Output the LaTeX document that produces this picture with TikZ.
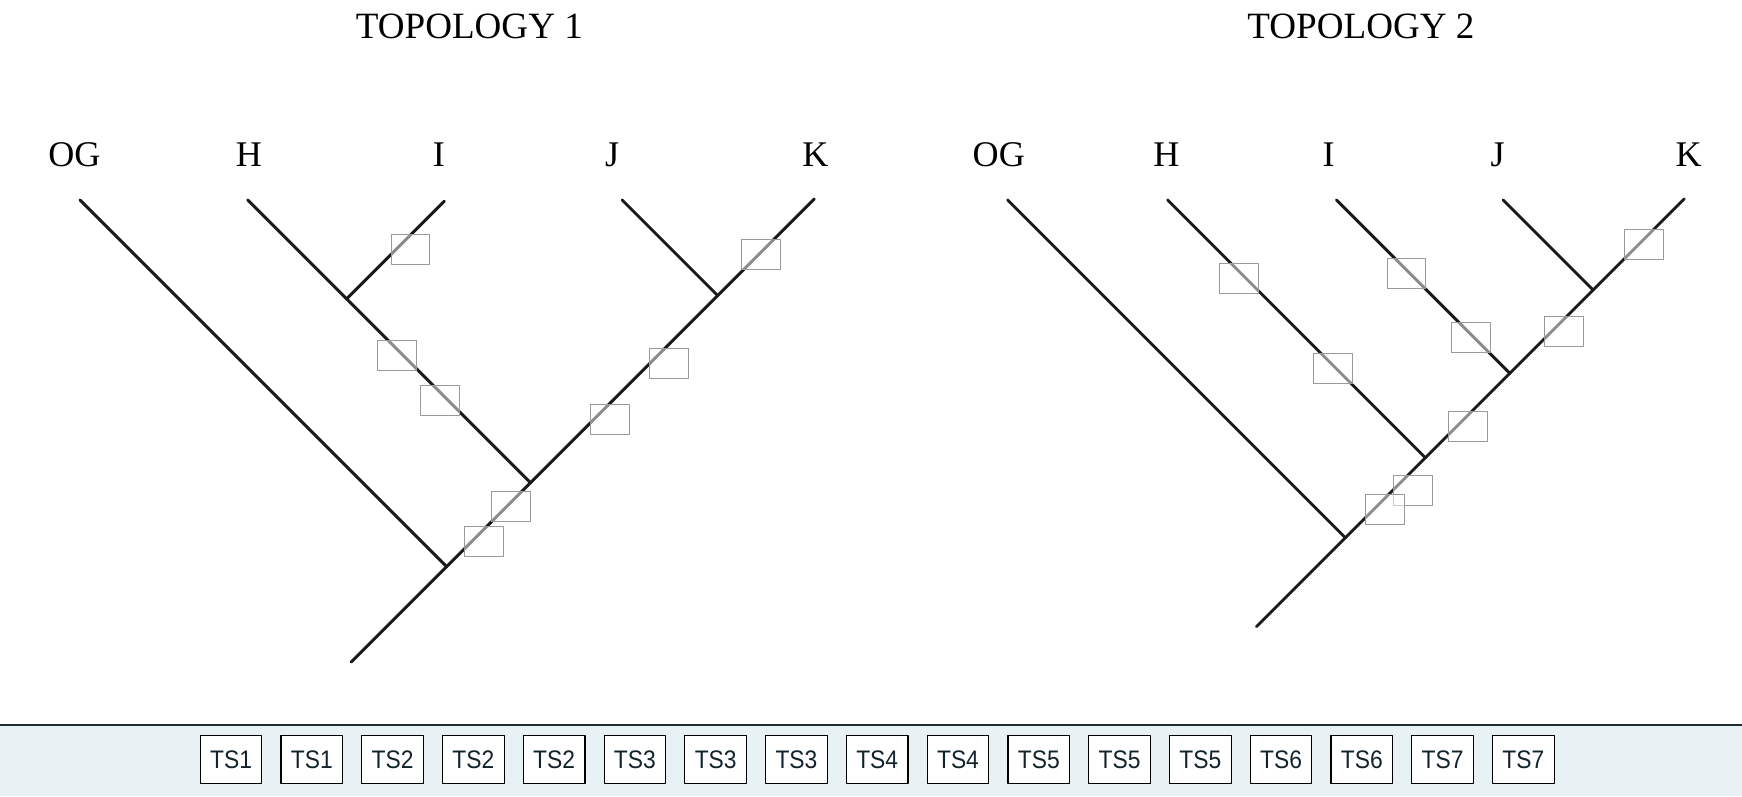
\documentclass[tikz,border=0pt]{standalone}
\usepackage{fontspec}
\setmainfont{Liberation Serif}
\setsansfont{Liberation Sans}
\newfontfamily\tsfont[FakeStretch=0.9]{Liberation Sans}
\usepackage{xcolor}
\definecolor{barfill}{HTML}{E8F1F4}
\definecolor{barline}{HTML}{1F2D33}
\definecolor{tstext}{HTML}{13232B}
\definecolor{slotgray}{HTML}{9A9A9A}
\definecolor{branchcol}{HTML}{1A1A1A}
\tikzset{
  branch/.style={line width=1.5pt,color=branchcol,line cap=round},
  slot/.style={draw=slotgray,line width=0.5pt,fill=white,fill opacity=0.5,minimum width=0.70cm,minimum height=0.54cm,inner sep=0pt},
  taxon/.style={anchor=base,font=\fontsize{18.5}{20}\selectfont},
  toptitle/.style={anchor=base,font=\fontsize{19}{21}\selectfont},
  tsbox/.style={draw=black,line width=0.6pt,fill=white,minimum width=1.11cm,minimum height=0.86cm,inner sep=0pt,text=tstext,font=\tsfont\fontsize{13}{15}\selectfont}
}
\begin{document}
\begin{tikzpicture}[line cap=round,line join=round,x=0.02cm,y=-0.02cm]
		\useasboundingbox (0,0) rectangle (1568,716.5);
		% topology 1
		\node[toptitle] (title1) at (422.5,34.5) {TOPOLOGY 1};
		\node[taxon] (la1og) at (67,150) {OG};
		\node[taxon] (la1h) at (224,150) {H};
		\node[taxon] (la1i) at (395,150) {I};
		\node[taxon] (la1j) at (551,150) {J};
		\node[taxon] (la1k) at (734,150) {K};
		\coordinate (t1og) at (72,180);
		\coordinate (t1h) at (223,180);
		\coordinate (t1i) at (400,181);
		\coordinate (t1j) at (560,180);
		\coordinate (t1k) at (733,179);
		\coordinate (t1hi) at (312,269);
		\coordinate (t1jk) at (646,266);
		\coordinate (t1hk) at (477.5,434.5);
		\coordinate (t1ogk) at (402,510);
		\coordinate (t1root) at (316,596);
		\draw [branch] (t1og)-- (t1ogk);
		\draw [branch] (t1h)-- (t1hi);
		\draw [branch] (t1hi)-- (t1hk);
		\draw [branch] (t1i)-- (t1hi);
		\draw [branch] (t1j)-- (t1jk);
		\draw [branch] (t1k)-- (t1jk);
		\draw [branch] (t1jk)-- (t1hk);
		\draw [branch] (t1hk)-- (t1ogk);
		\draw [branch] (t1ogk)-- (t1root);
		\node[slot] (s1a) at (369.5,224.5) {};
		\node[slot] (s1b) at (685,229.5) {};
		\node[slot] (s1c) at (357.5,320) {};
		\node[slot] (s1d) at (396,360.5) {};
		\node[slot] (s1e) at (602.5,327.5) {};
		\node[slot] (s1f) at (549,377.5) {};
		\node[slot] (s1g) at (460,456) {};
		\node[slot] (s1h) at (436,487.5) {};
		% topology 2
		\node[toptitle] (title2) at (1225,34.5) {TOPOLOGY 2};
		\node[taxon] (la2og) at (899,150) {OG};
		\node[taxon] (la2h) at (1050,150) {H};
		\node[taxon] (la2i) at (1196,150) {I};
		\node[taxon] (la2j) at (1348,150) {J};
		\node[taxon] (la2k) at (1520,150) {K};
		\coordinate (t2og) at (907,180);
		\coordinate (t2h) at (1051,180);
		\coordinate (t2i) at (1203,180);
		\coordinate (t2j) at (1353,180);
		\coordinate (t2k) at (1516,179);
		\coordinate (t2jk) at (1434,261);
		\coordinate (t2ik) at (1359,336);
		\coordinate (t2hk) at (1283,412);
		\coordinate (t2ogk) at (1211,484);
		\coordinate (t2root) at (1131,564);
		\draw [branch] (t2og)-- (t2ogk);
		\draw [branch] (t2h)-- (t2hk);
		\draw [branch] (t2i)-- (t2ik);
		\draw [branch] (t2j)-- (t2jk);
		\draw [branch] (t2k)-- (t2jk);
		\draw [branch] (t2jk)-- (t2ik);
		\draw [branch] (t2ik)-- (t2hk);
		\draw [branch] (t2hk)-- (t2ogk);
		\draw [branch] (t2ogk)-- (t2root);
		\node[slot] (s2a) at (1480,220.5) {};
		\node[slot] (s2b) at (1115.5,250.5) {};
		\node[slot] (s2c) at (1266,246) {};
		\node[slot] (s2d) at (1324,303.5) {};
		\node[slot] (s2e) at (1408,298.5) {};
		\node[slot] (s2f) at (1200,331.5) {};
		\node[slot] (s2g) at (1321.5,383.5) {};
		\node[slot] (s2h) at (1272,441.5) {};
		\node[slot] (s2i) at (1247,458.5) {};
		% answer bar
		\fill [barfill] (0,652.5) rectangle (1568,716.5);
		\draw [barline,line width=0.6pt,line cap=butt] (0,652.5)-- (1568,652.5);
		\foreach \lab [count=\n from 0] in {TS1,TS1,TS2,TS2,TS2,TS3,TS3,TS3,TS4,TS4,TS5,TS5,TS5,TS6,TS6,TS7,TS7}
			\node[tsbox] (ts\n) at (208+72.7*\n,683.5) {\lab};
\end{tikzpicture}
\end{document}
